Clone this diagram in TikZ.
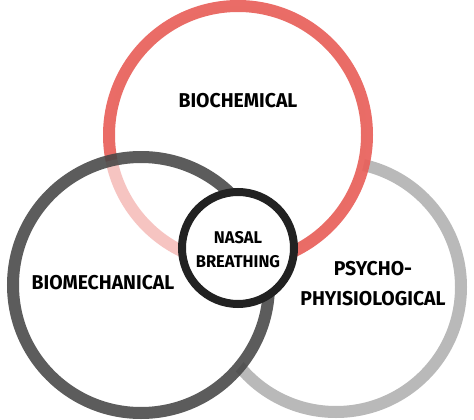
\documentclass[tikz,border=0pt]{standalone}
\usepackage{fontspec}
\newfontfamily\lblfont[FakeStretch=0.97]{Fira Sans}
\definecolor{vnred}{RGB}{232,96,90}
\definecolor{vndark}{RGB}{70,70,70}
\definecolor{vnlight}{RGB}{185,185,185}
\definecolor{vncore}{RGB}{34,34,34}
\usetikzlibrary{positioning}

\begin{document}
\begin{tikzpicture}[x=1pt, y=-1pt,
  ring/.style={line width=12pt},
  lbl/.style={font=\lblfont\bfseries\fontsize{20}{30}\selectfont, align=center, text=black},
  corelbl/.style={font=\lblfont\bfseries\fontsize{17}{24}\selectfont, align=center, text=black}]

\useasboundingbox (0,0) rectangle (474,420);

\coordinate (cchem) at (238,135);
\coordinate (cmech) at (141,285);
\coordinate (cpsy) at (336,287);
\coordinate (ccore) at (238,248);

% back ring, then white discs hide it
\draw[ring, draw=vnlight] (cpsy) circle (125pt);
\fill[white] (cchem) circle (129pt);
\fill[white] (cmech) circle (128pt);

\draw[ring, draw=vnred, draw opacity=0.92] (cchem) circle (129pt);
\fill[white, fill opacity=0.6] (cmech) circle (128pt);
\draw[ring, draw=vndark, draw opacity=0.88] (cmech) circle (128pt);

% centre
\draw[line width=8pt, draw=vncore, fill=white] (ccore) circle (56pt);

\node[lbl] (chem) at (238,101) {BIOCHEMICAL};
\node[lbl] (mech) at (103,283) {BIOMECHANICAL};
\node[lbl] (psy) at (373,284) {PSYCHO-\\PHYISIOLOGICAL};
\node[corelbl] (core) at (238,250) {NASAL\\BREATHING};

\end{tikzpicture}
\end{document}
